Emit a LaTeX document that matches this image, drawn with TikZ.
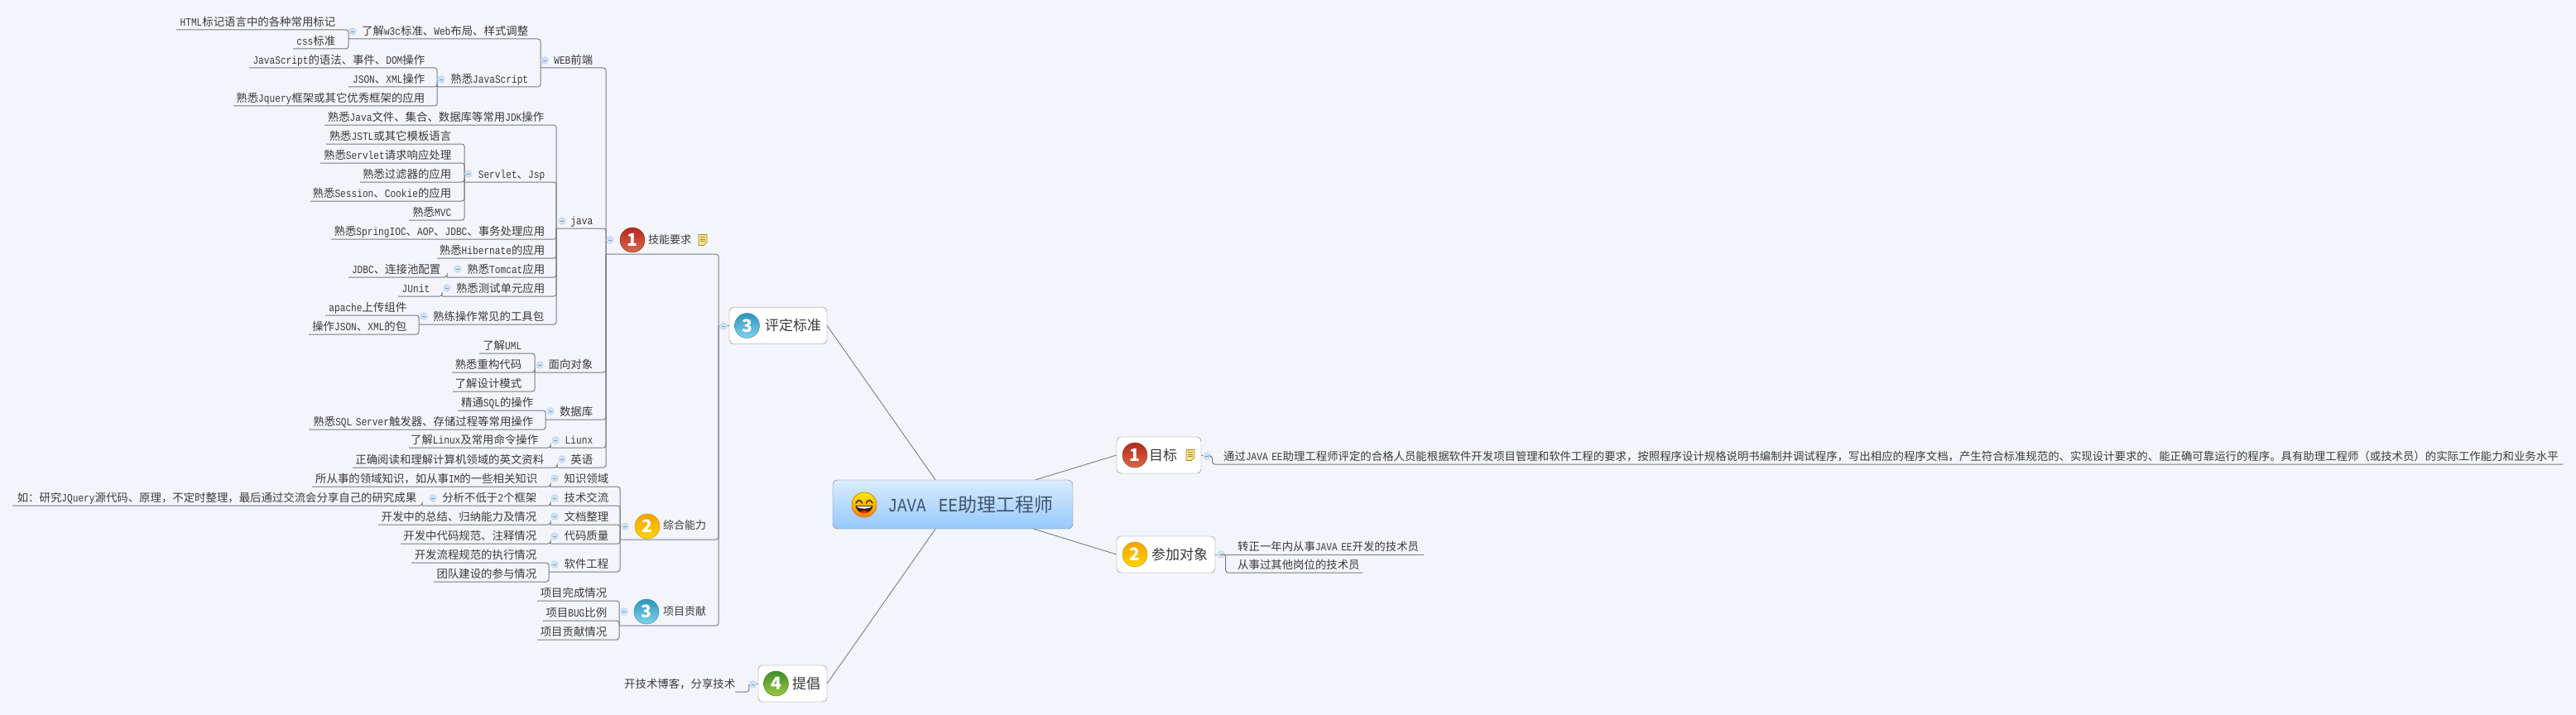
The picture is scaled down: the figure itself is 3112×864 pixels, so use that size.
\documentclass[tikz,border=0pt]{standalone}
\usepackage{fontspec}
\setmainfont{Noto Sans CJK SC}
\newfontfamily\latinmono[FakeStretch=0.833]{Liberation Mono}
\newcommand{\lat}[1]{{\latinmono #1}}
\usetikzlibrary{positioning}
\definecolor{paper}{HTML}{F3F5FA}
\definecolor{ink}{HTML}{3A3A3A}
\definecolor{wire}{HTML}{7B7D84}
\definecolor{foldfill}{HTML}{CFE0F2}
\definecolor{folddraw}{HTML}{C3D6EC}
\definecolor{foldmark}{HTML}{7F9FC6}
\definecolor{titletop}{HTML}{DAECFF}
\definecolor{titlelow}{HTML}{96C8FB}
\definecolor{titleink}{HTML}{40566E}
\definecolor{redtop}{HTML}{B5291C}
\definecolor{redlow}{HTML}{D9694A}
\definecolor{ambertop}{HTML}{F5A200}
\definecolor{amberlow}{HTML}{FFD500}
\definecolor{bluetop}{HTML}{2E95BC}
\definecolor{bluelow}{HTML}{7FD4EA}
\definecolor{greentop}{HTML}{3E8E2A}
\definecolor{greenlow}{HTML}{9CC83C}
\definecolor{notefill}{HTML}{F6E58F}
\definecolor{noteline}{HTML}{A98A2A}

\begin{document}
\begin{tikzpicture}[x=1pt, y=-1pt,
    topicnode/.style={anchor=south west, inner xsep=0pt, inner ysep=0pt, text height=9pt, text depth=4pt, align=right, text=ink, font=\fontsize{13.4}{13.4}\selectfont},
    subnode/.style={topicnode, text depth=12pt, font=\fontsize{13}{13}\selectfont},
    boxnode/.style={rectangle, rounded corners=5pt, draw=wire, fill=white, minimum height=44pt, align=right, text=ink, font=\fontsize{17}{17}\selectfont},
    titlenode/.style={boxnode, rounded corners=6pt, top color=titletop, bottom color=titlelow, text=titleink, font=\fontsize{23}{23}\selectfont},
    badgenode/.style n args={2}{circle, minimum size=30pt, inner sep=0pt, draw=#1!85!black, top color=#1, bottom color=#2, text=white, font=\fontsize{21}{21}\selectfont\bfseries},
    foldnode/.style={circle, minimum size=9pt, inner sep=0pt, draw=folddraw, fill=foldfill,
        path picture={\draw[foldmark, line width=.6pt] ([xshift=-2pt]path picture bounding box.center) -- ([xshift=2pt]path picture bounding box.center);}},
    link/.style={draw=wire, line width=1pt, rounded corners=3pt},
    spoke/.style={draw=wire, line width=.9pt},
    notepic/.pic={
        \draw[fill=notefill, draw=noteline, line width=.7pt] (-5,-6.5) -- (5,-6.5) -- (5,3) -- (1,6.5) -- (-5,6.5) -- cycle;
        \foreach \ly in {-3.5,-1,1.5} \draw[noteline, line width=.6pt] (-3,\ly) -- (3,\ly);
    },
    smilepic/.pic={
        \draw[top color=yellow!85!orange, bottom color=orange, draw=orange!80!black, line width=.6pt] (0,0) circle (15);
        \draw[black!70!brown, line width=1.4pt, line cap=round] (-10,-2) .. controls (-8,-6.5) and (-4,-6.5) .. (-2.5,-2);
        \draw[black!70!brown, line width=1.4pt, line cap=round] (2.5,-2) .. controls (4,-6.5) and (8,-6.5) .. (10,-2);
        \fill[black!75!brown] (-10.5,1) .. controls (-9,13) and (9,13) .. (10.5,1) -- cycle;
        \fill[white] (-9,1.8) .. controls (-7,5.5) and (7,5.5) .. (9,1.8) -- cycle;
        \fill[red!70!orange] (-5,9) .. controls (-3,6.5) and (3,6.5) .. (5,9) .. controls (2,10.5) and (-2,10.5) .. (-5,9) -- cycle;
    }]
    % page
    \fill[paper] (0,0) rectangle (3112,864);
    \useasboundingbox (0,0) rectangle (3112,864);
    % nodes
    \foreach \id/\xl/\xr/\yl/\txt in {
        html/213/405/36/\lat{HTML}标记语言中的各种常用标记,
        css/354/405/59/\lat{css}标准,
        w3c/421/638/47/了解\lat{w3c}标准、\lat{Web}布局、样式调整,
        jssyntax/301/513/82/\lat{JavaScript}的语法、事件、\lat{DOM}操作,
        jsonop/421/513/105/\lat{JSON}、\lat{XML}操作,
        jquery/282/513/128/熟悉\lat{Jquery}框架或其它优秀框架的应用,
        js/528/638/105/熟悉\lat{JavaScript},
        web/653/716/82/\lat{WEB}前端,
        jdk/392/657/151/熟悉\lat{Java}文件、集合、数据库等常用\lat{JDK}操作,
        jstl/394/545/174/熟悉\lat{JSTL}或其它模板语言,
        servletreq/387/545/197/熟悉\lat{Servlet}请求响应处理,
        filter/435/545/220/熟悉过滤器的应用,
        session/375/545/243/熟悉\lat{Session}、\lat{Cookie}的应用,
        mvc/494/545/266/熟悉\lat{MVC},
        servlet/561/658/220/\lat{Servlet}、\lat{Jsp},
        spring/400/658/289/熟悉\lat{SpringIOC}、\lat{AOP}、\lat{JDBC}、事务处理应用,
        hibernate/528/658/312/熟悉\lat{Hibernate}的应用,
        jdbc/421/532/335/\lat{JDBC}、连接池配置,
        tomcat/540/658/335/熟悉\lat{Tomcat}应用,
        junit/481/519/358/\lat{JUnit},
        unittest/534/658/358/熟悉测试单元应用,
        apache/393/491/381/\lat{apache}上传组件,
        jsonpkg/373/491/404/操作\lat{JSON}、\lat{XML}的包,
        toolkit/506/657/392/熟练操作常见的工具包,
        java/672/716/276/\lat{java},
        uml/579/630/427/了解\lat{UML},
        refactor/546/630/450/熟悉重构代码,
        pattern/547/630/473/了解设计模式,
        oop/646/716/450/面向对象,
        sqlop/553/644/496/精通\lat{SQL}的操作,
        sqlserver/373/644/519/熟悉\lat{SQL~Server}触发器、存储过程等常用操作,
        database/659/716/507/数据库,
        linuxcmd/494/650/541/了解\lat{Linux}及常用命令操作,
        liunx/665/716/541/\lat{Liunx},
        reading/426/657/565/正确阅读和理解计算机领域的英文资料,
        english/673/716/565/英语,
        domain/377/649/588/所从事的领域知识，如从事\lat{IM}的一些相关知识,
        knowledge/665/735/588/知识领域,
        jqsource/15/503/611/如：研究\lat{JQuery}源代码、原理，不定时整理，最后通过交流会分享自己的研究成果,
        analyse/510/648/611/分析不低于\lat{2}个框架,
        exchange/665/735/611/技术交流,
        summary/457/648/634/开发中的总结、归纳能力及情况,
        docs/665/735/634/文档整理,
        codestyle/484/648/657/开发中代码规范、注释情况,
        quality/665/735/657/代码质量,
        process/497/648/680/开发流程规范的执行情况,
        team/524/648/703/团队建设的参与情况,
        software/663/735/691/软件工程,
        finish/649/733/726/项目完成情况,
        bugrate/656/733/750/项目\lat{BUG}比例,
        contrib/649/733/773/项目贡献情况,
        blog/750/888/836/开技术博客，分享技术}
    {
        \pgfmathsetmacro\wid{\xr-\xl}
        \node[topicnode, text width=\wid pt] (\id) at (\xl,\yl) {\leavevmode\llap{\txt}};
    }
    \node[subnode, text width=103pt] (skill)   at (732,307) {技能要求};
    \node[subnode, text width=104pt] (ability) at (749,652) {综合能力};
    \node[subnode, text width=105pt] (project) at (748,756) {项目贡献};
    \node[topicnode, align=left, text width=1618pt] (goaltext) at (1478,561) {通过\lat{JAVA~EE}助理工程师评定的合格人员能根据软件开发项目管理和软件工程的要求，按照程序设计规格说明书编制并调试程序，写出相应的程序文档，产生符合标准规范的、实现设计要求的、能正确可靠运行的程序。具有助理工程师（或技术员）的实际工作能力和业务水平};
    \node[topicnode, align=left, text width=225pt] (joina) at (1495,670) {转正一年内从事\lat{JAVA~EE}开发的技术员};
    \node[topicnode, align=left, text width=151pt] (joinb) at (1495,692) {从事过其他岗位的技术员};
    \node[boxnode, text width=104pt, inner xsep=7pt] (eval) at (940,393.5) {评定标准};
    \node[boxnode, text width=44pt, inner xsep=29pt] (goal) at (1400,550) {目标};
    \node[boxnode, text width=101pt, inner xsep=9pt] (join) at (1408.5,670) {参加对象};
    \node[boxnode, text width=67pt, inner xsep=8pt] (idea) at (957.5,826) {提倡};
    \node[titlenode, minimum height=59pt, text width=242pt, inner xsep=24pt] (title) at (1151,609.5) {\lat{JAVA~~EE}助理工程师};
    \coordinate (evalhub) at (868,394);
    % lines
    \draw[spoke] (eval.east) -- ([xshift=-21pt]title.north);
    \draw[spoke] (goal.west) -- ([xshift=100pt]title.north);
    \draw[spoke] (join.west) -- ([xshift=98pt]title.south);
    \draw[spoke] (idea.east) -- ([xshift=-21pt]title.south);
    \foreach \c/\p in {html/w3c, css/w3c, w3c/web, jssyntax/js, jsonop/js, jquery/js, js/web, web/skill,
        jdk/java, jstl/servlet, servletreq/servlet, filter/servlet, session/servlet, mvc/servlet, servlet/java,
        spring/java, hibernate/java, jdbc/tomcat, tomcat/java, junit/unittest, unittest/java,
        apache/toolkit, jsonpkg/toolkit, toolkit/java, java/skill,
        uml/oop, refactor/oop, pattern/oop, oop/skill, sqlop/database, sqlserver/database, database/skill,
        linuxcmd/liunx, liunx/skill, reading/english, english/skill,
        domain/knowledge, knowledge/ability, jqsource/analyse, analyse/exchange, exchange/ability,
        summary/docs, docs/ability, codestyle/quality, quality/ability,
        process/software, team/software, software/ability,
        finish/project, bugrate/project, contrib/project}
        \draw[link] (\c.south west) -- (\c.south east) -| (\p.south west);
    \foreach \c in {skill, ability, project}
        \draw[link] (\c.south west) -- (\c.south east) -| (evalhub);
    \draw[link] (evalhub) -- (eval.west);
    % fold marks
    \foreach \fx/\fy in {426/38, 533/96, 658/73, 566/210, 679/267, 553/325, 540/348, 512/382, 737/290,
        652/441, 665/497, 671/532, 679/555, 670/578, 670/602, 523/602, 670/624, 670/648, 670/682, 755/636, 754/739}
        \node[foldnode] at (\fx,\fy) {};
    \node[foldnode] (foldeval) at (874,394) {};
    \node[foldnode] (foldgoal) at (1458,551) {};
    \node[foldnode] (foldjoin) at (1475,670) {};
    \node[foldnode] (foldidea) at (909.5,827) {};
    \draw[link] (goal.east) -- (foldgoal);
    \draw[link] (join.east) -- (foldjoin);
    \draw[link] (idea.west) -- (foldidea);
    \draw[link] (foldgoal.east) -- ++(2,0) |- (goaltext.south west) -- (goaltext.south east);
    \draw[link] (foldjoin.east) -- (joina.south east);
    \draw[link] (foldjoin.east) -- ++(1,0) |- (joinb.south west) -- (joinb.south east);
    \draw[link] (blog.south east) -| (foldidea.west);
    % badges and icons
    \node[badgenode={redtop}{redlow}, right=7pt of goal.west] (goalbadge) {1};
    \node[badgenode={ambertop}{amberlow}, right=7pt of join.west] (joinbadge) {2};
    \node[badgenode={bluetop}{bluelow}, right=6.5pt of eval.west] (evalbadge) {3};
    \node[badgenode={greentop}{greenlow}, right=6.5pt of idea.west] (ideabadge) {4};
    \node[badgenode={redtop}{redlow}] (skillbadge) at (764,290) {1};
    \node[badgenode={ambertop}{amberlow}] (abilitybadge) at (782,636) {2};
    \node[badgenode={bluetop}{bluelow}] (projectbadge) at (781,739) {3};
    \pic at (849,290) {notepic};
    \pic at (1438,550) {notepic};
    \pic at (1044,610) {smilepic};
\end{tikzpicture}
\end{document}
